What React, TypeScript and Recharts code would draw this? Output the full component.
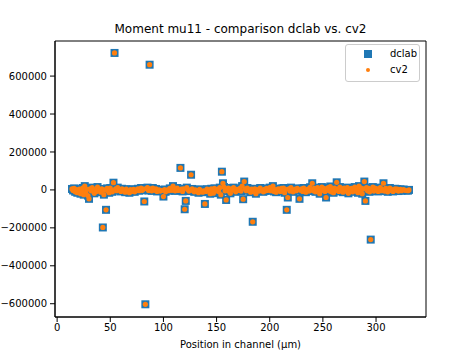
import React from "react";
import { ScatterChart, Scatter, XAxis, YAxis, Legend, Label, ReferenceArea } from "recharts";

const positionX: number[] = [
  14, 15, 16, 17, 18, 19, 20, 21, 22, 23, 24, 25, 26, 27, 28, 29, 30, 31, 32, 33,
  35, 36, 37, 38, 40, 41, 42, 43, 44, 45, 46, 47, 48, 49, 50, 51, 52, 53, 54, 55,
  56, 57, 58, 60, 61, 62, 64, 65, 66, 68, 69, 70, 72, 73, 75, 76, 77, 79, 80, 81,
  82, 83, 84, 85, 86, 87, 88, 89, 90, 92, 93, 94, 96, 97, 98, 100, 101, 102, 104, 105,
  106, 108, 109, 110, 111, 112, 113, 114, 116, 117, 118, 119, 120, 121, 122, 123, 124, 126, 127, 128,
  129, 130, 132, 133, 134, 135, 137, 138, 139, 140, 141, 142, 144, 145, 146, 147, 148, 150, 151, 152,
  153, 154, 155, 156, 157, 158, 159, 160, 161, 162, 163, 164, 165, 166, 168, 169, 170, 172, 173, 174,
  175, 176, 177, 178, 179, 180, 182, 183, 184, 185, 186, 187, 188, 190, 191, 192, 194, 195, 196, 197,
  198, 200, 201, 202, 203, 204, 205, 206, 208, 209, 210, 211, 212, 213, 214, 215, 216, 217, 218, 219,
  220, 221, 222, 224, 225, 226, 228, 229, 230, 231, 232, 233, 234, 236, 237, 238, 239, 240, 241, 242,
  243, 244, 245, 246, 247, 248, 249, 250, 251, 252, 253, 254, 255, 256, 257, 258, 259, 260, 261, 262,
  263, 264, 265, 266, 267, 268, 269, 270, 271, 272, 273, 274, 275, 276, 277, 278, 279, 280, 281, 282,
  283, 284, 285, 286, 287, 288, 289, 290, 291, 292, 293, 294, 295, 296, 297, 298, 299, 300, 301, 302,
  303, 304, 305, 306, 307, 308, 309, 310, 311, 312, 313, 314, 315, 316, 318, 319, 320, 321, 323, 324,
  326, 328, 330, 331,
];

const mu11Dclab: number[] = [
  5000, -3000, 8000, -10000, 2000, -15000, -6000, 4000, -20000, -8000, 10000, -25000, 20000, -12000, 3000, -30000, -47000, 6000, -5000, 12000,
  -18000, 2000, -8000, 15000, -3000, -12000, 5000, -198000, -25000, 0, -105000, 8000, -6000, -15000, 10000, -2000, -10000, 38000, 722000, 5000,
  -4000, 12000, 0, -8000, 6000, -3000, -12000, 4000, -6000, -15000, 2000, -8000, 3000, -10000, 0, 6000, -4000, 10000, -2000, 4000,
  -61000, -603000, 8000, 12000, -3000, 660000, 6000, -5000, 10000, -2000, 5000, -8000, 0, -6000, -3000, -35000, 2000, -10000, 0, -4000,
  8000, -2000, 20000, 5000, -5000, 3000, 10000, -3000, 116000, 4000, -8000, 6000, -102000, -58000, 12000, 2000, -6000, 80000, 5000, -4000,
  -10000, 0, -6000, -15000, 3000, -3000, -12000, -5000, -74000, -8000, 4000, -2000, -20000, 6000, 2000, -17000, 8000, -5000, 3000, -8000,
  12000, -25000, 96000, 35000, 15000, -5000, -53000, 4000, 10000, -8000, -18000, 6000, 0, 12000, -10000, 3000, -3000, 8000, -6000, 20000,
  -49000, 44000, 5000, -4000, 10000, -2000, -12000, 4000, -168000, -8000, 6000, -20000, 2000, -6000, 10000, -3000, -10000, 3000, -5000, 8000,
  -2000, 12000, -4000, 6000, 20000, -8000, 2000, -12000, 5000, -3000, -8000, 8000, -2000, 10000, -15000, 3000, -105000, -40000, 6000, -6000,
  12000, 0, -10000, 4000, -4000, 8000, -47000, -2000, 6000, -8000, 10000, 0, -12000, 4000, -6000, 14000, 2000, 35000, -5000, 8000,
  -10000, 3000, 12000, -4000, -20000, 6000, 15000, -2000, 8000, -8000, -40000, 5000, 12000, -5000, 18000, -10000, 2000, -15000, 10000, -3000,
  40000, 4000, -8000, 15000, -2000, 6000, -12000, 10000, 0, -6000, 12000, -18000, 4000, -4000, 8000, -10000, 2000, 15000, -6000, 6000,
  -15000, 20000, -3000, 10000, -20000, 5000, 44000, -58000, 12000, -5000, 8000, -10000, -262000, 3000, 15000, -6000, 10000, -2000, 6000, -8000,
  4000, 12000, -4000, 2000, 35000, -6000, 8000, 0, -10000, 5000, 10000, -3000, 2000, -8000, 6000, -2000, 4000, -6000, 3000, -4000,
  2000, -3000, -4000, 0,
];

const mu11Cv2: number[] = mu11Dclab.slice();

const xTicks = [0, 50, 100, 150, 200, 250, 300];
const yTicks = [-600000, -400000, -200000, 0, 200000, 400000, 600000];
const xDomain: [number, number] = [-2, 347];
const yDomain: [number, number] = [-670000, 785000];

const dclabData = positionX.map((x, i) => ({ x, y: mu11Dclab[i] }));
const cv2Data = positionX.map((x, i) => ({ x, y: mu11Cv2[i] }));

const BLUE = "#1f77b4";
const ORANGE = "#ff7f0e";
const FONT = "'DejaVu Sans', sans-serif";

const Square = (props: any) => {
  const { cx, cy } = props;
  if (cx == null || cy == null) return null;
  return <rect x={cx - 4} y={cy - 4} width={8} height={8} fill={BLUE} />;
};

const Dot = (props: any) => {
  const { cx, cy } = props;
  if (cx == null || cy == null) return null;
  return <circle cx={cx} cy={cy} r={2.6} fill={ORANGE} />;
};

const fmt = (v: number) => String(v).replace("-", "\u2212");

const LegendBox = () => (
  <div
    style={{
      width: 75,
      height: 38,
      boxSizing: "border-box",
      border: "1px solid #cccccc",
      borderRadius: 3,
      background: "rgba(255,255,255,0.8)",
      fontFamily: FONT,
      fontSize: 10,
      color: "#000",
      position: "relative",
    }}
  >
    <div style={{ position: "absolute", left: 18, top: 5, width: 8, height: 8, background: BLUE }} />
    <div style={{ position: "absolute", left: 44, top: 2, lineHeight: "14px" }}>dclab</div>
    <div
      style={{
        position: "absolute",
        left: 20,
        top: 23,
        width: 4,
        height: 4,
        borderRadius: 2,
        background: ORANGE,
      }}
    />
    <div style={{ position: "absolute", left: 44, top: 18, lineHeight: "14px" }}>cv2</div>
  </div>
);

export default function App() {
  return (
    <div style={{ position: "absolute", left: 0, top: 0, width: 474, height: 354, background: "#fff" }}>
      <div
        style={{
          position: "absolute",
          left: 55,
          width: 371,
          top: 21,
          textAlign: "center",
          fontFamily: FONT,
          fontSize: 12,
          lineHeight: "16px",
          color: "#000",
        }}
      >
        Moment mu11 - comparison dclab vs. cv2
      </div>
      <ScatterChart width={474} height={354} margin={{ top: 41, right: 48, bottom: 0, left: 0 }}>
        <XAxis
          dataKey="x"
          type="number"
          domain={xDomain}
          ticks={xTicks}
          height={37}
          tickSize={5}
          tickMargin={2}
          stroke="#000"
          tick={{ fill: "#000", fontSize: 10, fontFamily: FONT }}
          tickLine={{ stroke: "#000" }}
          allowDataOverflow
        >
          <Label
            value="Position in channel (µm)"
            position="insideBottom"
            offset={6}
            style={{ fill: "#000", fontSize: 10, fontFamily: FONT }}
          />
        </XAxis>
        <YAxis
          dataKey="y"
          type="number"
          domain={yDomain}
          ticks={yTicks}
          width={55}
          tickSize={5}
          tickMargin={3}
          stroke="#000"
          tickFormatter={fmt}
          tick={{ fill: "#000", fontSize: 10, fontFamily: FONT }}
          tickLine={{ stroke: "#000" }}
          allowDataOverflow
        />
        <ReferenceArea
          x1={xDomain[0]}
          x2={xDomain[1]}
          y1={yDomain[0]}
          y2={yDomain[1]}
          fill="none"
          fillOpacity={0}
          stroke="#000"
          strokeWidth={1}
          ifOverflow="extendDomain"
        />
        <Legend
          layout="horizontal"
          verticalAlign="middle"
          align="center"
          content={() => <LegendBox />}
          wrapperStyle={{ position: "absolute", left: 345, top: 44, width: 75, height: 38 }}
        />
        <Scatter name="dclab" data={dclabData} shape={Square} isAnimationActive={false} />
        <Scatter name="cv2" data={cv2Data} shape={Dot} isAnimationActive={false} />
      </ScatterChart>
    </div>
  );
}
